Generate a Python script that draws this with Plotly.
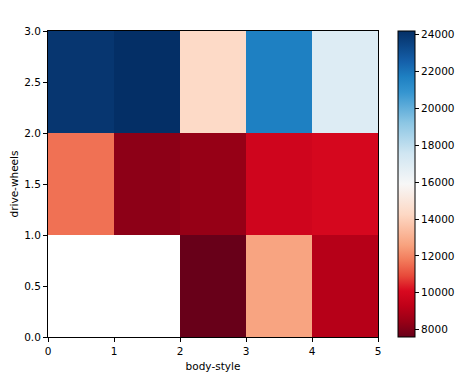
import plotly.graph_objects as go

body_style = ["convertible", "hardtop", "hatchback", "sedan", "wagon"]
drive_wheels = ["4wd", "fwd", "rwd"]
price_4wd = [None, None, 7603.0, 12647.33, 9095.75]
price_fwd = [11595.0, 8249.0, 8396.39, 9811.8, 9997.33]
price_rwd = [23949.6, 24202.71, 14337.78, 21711.83, 16994.22]

z = [price_4wd, price_fwd, price_rwd]
x_edges = [0, 1, 2, 3, 4, 5]
y_edges = [0, 1, 2, 3]

colorscale = [
    [0.0, "#680019"], [0.05, "#980016"], [0.1, "#be0018"], [0.15, "#d8081f"],
    [0.2, "#e84a3a"], [0.25, "#f27a5a"], [0.3, "#f8a27e"], [0.4, "#fdd8c4"],
    [0.5, "#f7f7f7"], [0.6, "#d0e6f2"], [0.7, "#8cc6e4"], [0.8, "#3595d0"],
    [0.85, "#1e80c2"], [0.9, "#1560aa"], [1.0, "#042f66"],
]

vals = [v for row in z for v in row if v is not None]

fig = go.Figure(go.Heatmap(
    z=z, x=x_edges, y=y_edges, colorscale=colorscale,
    zmin=min(vals), zmax=max(vals),
    colorbar=dict(
        x=1.0606, xanchor="left", xref="paper", y=0.5, yanchor="middle",
        len=1, lenmode="fraction", thickness=17, thicknessmode="pixels",
        outlinewidth=1, outlinecolor="black", ticks="outside", ticklen=4,
        tickcolor="black", tickvals=list(range(8000, 24001, 2000)),
        tickformat="d",
        tickfont=dict(size=10.5, color="black", family="DejaVu Sans"),
        xpad=0, ypad=0,
    ),
    hoverongaps=False,
))

axis_common = dict(showline=True, linecolor="black", linewidth=1, mirror=True,
                   ticks="outside", ticklen=4, tickcolor="black", showgrid=False,
                   zeroline=False, tickfont=dict(size=10.5, color="black", family="DejaVu Sans"),
                   title_font=dict(size=10.5, color="black", family="DejaVu Sans"))

fig.update_xaxes(range=[0, 5], tickvals=[0, 1, 2, 3, 4, 5], title_text="body-style",
                 title_standoff=7, automargin=False, **axis_common)
fig.update_yaxes(range=[0, 3], tickvals=[0, 0.5, 1, 1.5, 2, 2.5, 3], tickformat=".1f",
                 title_text="drive-wheels", title_standoff=6, automargin=False, **axis_common)

fig.update_layout(
    width=466, height=371,
    margin=dict(l=40, r=96, t=23, b=42, autoexpand=False),
    plot_bgcolor="white", paper_bgcolor="white",
    font=dict(family="DejaVu Sans", size=10.5, color="black"),
)

fig.write_html("out.html")
